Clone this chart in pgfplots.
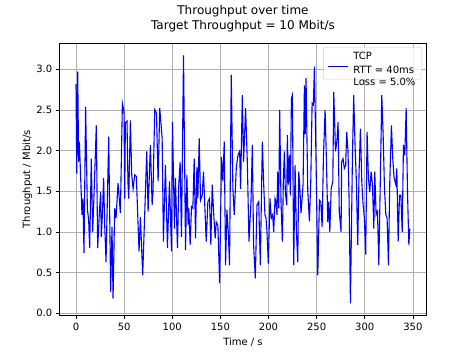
\documentclass[border=0pt]{standalone}
\usepackage{pgfplots}
\pgfplotsset{compat=1.18}
\usepackage{fontspec}
\setmainfont{DejaVu Sans}
\definecolor{gridgray}{HTML}{B0B0B0}
\definecolor{legedge}{HTML}{CCCCCC}
\begin{document}
\begin{tikzpicture}
\useasboundingbox (-59.3pt,-39.3pt) rectangle (414.7pt,315.7pt);
\begin{axis}[
  scale only axis,
  width=367.4pt, height=272.6pt,
  xmin=-17.35, xmax=364.35,
  ymin=-0.03, ymax=3.32,
  xtick={0,50,...,350},
  ytick={0,0.5,...,3.0},
  /pgf/number format/assume math mode=true,
  yticklabel style={/pgf/number format/.cd, fixed, fixed zerofill, precision=1},
  xticklabel style={/pgf/number format/.cd, fixed, precision=0},
  tick label style={font=\fontsize{10}{12}\selectfont},
  label style={font=\fontsize{10}{12}\selectfont},
  tick align=outside,
  major tick length=3.6pt,
  tick style={black, line width=0.6pt},
  xtick pos=bottom, ytick pos=left,
  axis line style={line width=0.6pt},
  grid=major,
  major grid style={gridgray, line width=0.6pt},
  title={Throughput over time\\Target Throughput = 10 Mbit/s},
  title style={at={(axis description cs:0.5,1)}, anchor=south, yshift=5pt, align=center, inner sep=0pt, font=\fontsize{12}{15}\selectfont},
  xlabel={Time / s},
  ylabel={Throughput / Mbit/s},
  every axis x label/.style={at={(axis description cs:0.5,0)}, anchor=center, yshift=-26.6pt},
  every axis y label/.style={at={(axis description cs:0,0.5)}, anchor=center, rotate=90, yshift=32pt},
  legend style={at={(1,1)}, anchor=north east, xshift=-5pt, yshift=-4pt,
    draw=legedge, fill=white, fill opacity=0.8, text opacity=1, rounded corners=2pt,
    font=\fontsize{10}{12.5}\selectfont, row sep=0pt, column sep=3pt, inner xsep=4pt, inner ysep=2.5pt},
  legend cell align=left,
  legend image code/.code={\draw[#1] (0pt,0.3em) -- (20pt,0.3em);},
]
\addlegendimage{draw opacity=0, opacity=0}
\addlegendentry{TCP}
\addplot[color=blue, line width=1.1pt] coordinates {
(0,2.82)(0.8,1.72)(1.8,2.97)(2.7,1.86)(3.5,2.11)(5.5,1.45)(6.2,1.21)(7.2,1.41)(8.3,0.74)
(10.0,2.54)(11.8,1.29)(13.2,1.13)(14.2,0.80)(15.9,1.90)(17.3,1.00)(18.7,1.45)(21.1,2.31)
(22.5,0.80)(24.2,1.21)(25.6,1.49)(26.3,0.94)(27.4,1.21)(28.7,1.66)(29.8,1.09)(31.2,0.63)
(34.0,2.17)(36.0,0.26)(37.4,1.06)(38.5,0.18)(40.2,1.29)(41.6,1.17)(43.7,1.60)(46.1,1.23)
(48.2,2.58)(49.9,2.48)(50.6,1.41)(51.3,2.34)(53.0,2.36)(54.0,1.60)(54.8,1.41)(56.5,2.37)
(57.9,1.70)(59.3,1.53)(61.0,1.70)(62.7,1.68)(65.5,0.76)(66.9,1.18)(69.3,0.47)(73.5,1.99)
(74.9,1.25)(77.3,2.07)(79.1,1.33)(80.0,1.49)(81.8,2.50)(83.6,2.46)(85.3,1.62)(87.0,2.52)
(89.5,2.15)(90.8,0.88)(92.9,1.82)(95.0,0.80)(97.1,1.62)(99.2,0.76)(100.2,2.35)(102.3,1.04)
(103.3,1.66)(105.4,0.80)(106.8,1.58)(108.2,1.86)(109.6,0.94)(111.0,2.44)(111.7,3.17)
(113.8,0.78)(115.2,1.70)(116.5,1.09)(117.2,1.29)(118.6,0.84)(120.0,1.31)(121.4,1.29)
(122.8,1.90)(124.2,0.92)(125.6,1.80)(126.6,1.41)(128.0,2.15)(129.4,1.39)(131.1,1.45)
(132.5,1.74)(133.5,1.41)(135.3,0.88)(137.0,1.37)(138.7,1.41)(140.1,0.84)(141.5,1.58)
(143.3,1.17)(144.6,0.92)(145.7,1.12)(147.4,1.08)(149.2,0.37)(151.2,1.92)(152.6,1.62)
(154.0,2.11)(155.4,0.59)(156.8,1.27)(158.2,1.00)(159.5,0.59)(161.3,2.93)(163.0,1.53)
(164.4,1.21)(166.5,1.78)(168.2,1.94)(170.0,1.99)(171.0,1.53)(172.8,2.68)(174.1,1.86)
(176.2,2.52)(178.0,1.86)(179.7,0.88)(181.8,1.37)(183.2,2.07)(184.5,0.84)(186.3,0.43)
(188.0,1.33)(189.8,1.37)(191.5,0.59)(193.6,2.11)(195.0,1.58)(196.3,1.21)(197.4,1.17)
(198.4,1.00)(199.8,0.61)(201.5,1.41)(202.9,1.17)(204.3,1.21)(205.4,1.00)(206.8,1.41)
(207.8,1.37)(208.8,1.21)(209.5,1.74)(210.6,1.29)(211.6,2.50)(213.0,1.37)(214.4,0.88)
(215.4,1.62)(216.5,1.99)(217.5,1.49)(218.9,1.33)(219.6,2.19)(220.6,1.58)(221.7,1.94)
(222.7,1.45)(223.8,2.64)(224.8,2.68)(226.2,0.59)(227.6,1.82)(229.0,1.00)(230.4,0.63)
(231.4,1.74)(232.4,1.58)(233.8,1.23)(235.9,1.58)(237.3,2.80)(238.2,2.20)(239.0,2.89)
(240.8,1.50)(242.5,1.13)(243.9,1.62)(245.3,2.58)(246.6,2.56)(247.7,3.03)(249.4,1.86)
(251.2,0.47)(252.9,1.39)(254.3,1.37)(255.7,1.06)(257.1,1.94)(258.8,2.50)(260.2,1.86)
(261.6,1.12)(262.6,1.37)(263.7,1.00)(265.1,1.53)(266.8,1.62)(267.8,2.72)(269.6,1.99)
(271.0,2.11)(272.3,2.35)(273.5,1.25)(275.4,1.00)(276.0,1.86)(277.4,1.90)(278.8,1.78)
(280.2,1.82)(281.2,2.23)(282.6,1.99)(283.7,1.41)(285.1,0.12)(287.2,1.92)(288.5,2.68)
(289.9,2.07)(291.3,1.62)(292.7,0.84)(294.1,1.74)(295.5,2.27)(296.9,1.62)(298.3,1.33)
(299.6,1.17)(301.0,0.72)(302.4,2.23)(303.8,1.66)(305.2,1.49)(306.6,1.74)(308.0,1.58)
(309.4,1.04)(310.4,1.74)(311.8,1.21)(313.2,1.25)(314.6,0.59)(316.0,1.53)(317.7,2.68)
(319.1,2.19)(320.5,1.53)(321.9,1.21)(323.2,1.17)(324.6,0.59)(326.0,1.62)(327.7,2.31)
(329.1,1.90)(330.5,1.66)(332.3,1.58)(333.3,1.78)(334.7,0.88)(336.1,1.45)(337.5,1.45)
(338.9,1.00)(340.2,2.07)(341.6,1.94)(343.0,2.52)(344.4,1.49)(345.8,0.84)(346.8,1.04)
};
\addlegendentry{\begin{tabular}[t]{@{}l@{}}RTT = 40ms\\Loss = 5.0\%\end{tabular}}
\end{axis}
\end{tikzpicture}
\end{document}
